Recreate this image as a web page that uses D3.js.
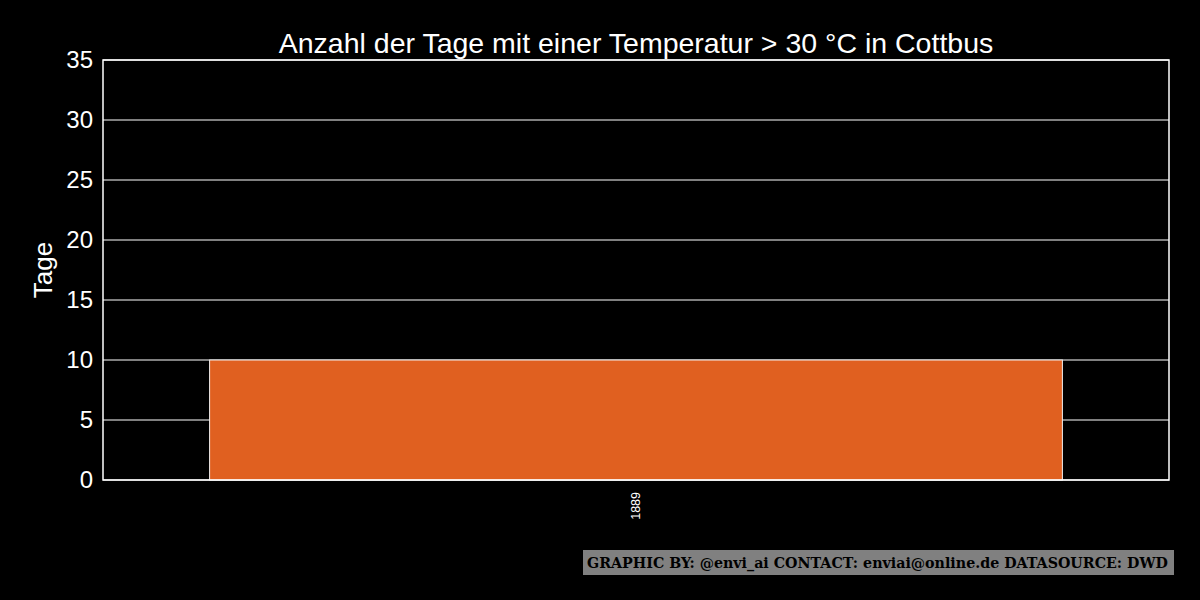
<!DOCTYPE html>
<html><head><meta charset="utf-8">
<script src="https://cdn.jsdelivr.net/npm/d3@7"></script>
<style>html,body{margin:0;padding:0;background:#000;}svg{display:block;}</style>
</head><body>
<svg id="c" width="1200" height="600"></svg>
<script>
const years = ["1889"];
const values = [10];
const yTicks = [0,5,10,15,20,25,30,35];
const title = "Anzahl der Tage mit einer Temperatur > 30 °C in Cottbus";
const yLabel = "Tage";
const footer = "GRAPHIC BY: @envi_ai CONTACT: enviai@online.de DATASOURCE: DWD";

const svg = d3.select("#c");
const m = {l:103, r:31, t:60, b:120};
const W = 1200, H = 600;
const iw = W - m.l - m.r, ih = H - m.t - m.b;
svg.append("rect").attr("width",W).attr("height",H).attr("fill","#000");
const g = svg.append("g").attr("transform",`translate(${m.l},${m.t})`);
const x = d3.scaleBand().domain(years).range([0,iw]).paddingInner(0.2).paddingOuter(0.1);
const y = d3.scaleLinear().domain([0,35]).range([ih,0]);

g.selectAll("line.grid").data(yTicks).join("line")
  .attr("x1",0).attr("x2",iw).attr("y1",d=>y(d)).attr("y2",d=>y(d))
  .attr("stroke","#fff").attr("stroke-width",1.2);

g.selectAll("rect.bar").data(years).join("rect")
  .attr("x",d=>x(d)).attr("width",x.bandwidth())
  .attr("y",(d,i)=>y(values[i])).attr("height",(d,i)=>ih-y(values[i]))
  .attr("fill","#E06020").attr("stroke","#f0f0f0").attr("stroke-width",1);

g.append("rect").attr("width",iw).attr("height",ih).attr("fill","none").attr("stroke","#fff").attr("stroke-width",1.5);

const ya = g.append("g").call(d3.axisLeft(y).tickValues(yTicks).tickSize(0).tickPadding(10));
ya.select(".domain").remove();
ya.selectAll("text").attr("fill","#fff").attr("font-size",24).attr("font-family","Liberation Sans, Arial, sans-serif");

const xa = g.append("g").attr("transform",`translate(0,${ih})`).call(d3.axisBottom(x).tickSize(0));
xa.select(".domain").remove();
xa.selectAll("text").attr("fill","#fff").attr("font-size",12.5).attr("font-family","Liberation Sans, Arial, sans-serif")
  .attr("transform","rotate(-90)").attr("text-anchor","end").attr("dx","-12").attr("dy","0.35em").attr("y",0).attr("x",0);

svg.append("text").attr("x",m.l+iw/2).attr("y",53).attr("text-anchor","middle")
  .attr("fill","#fff").attr("font-size",28.5).attr("font-family","Liberation Sans, Arial, sans-serif").text(title);

svg.append("text").attr("transform",`translate(52,${m.t+ih/2}) rotate(-90)`).attr("text-anchor","middle")
  .attr("fill","#fff").attr("font-size",26).attr("font-family","Liberation Sans, Arial, sans-serif").text(yLabel);

svg.append("rect").attr("x",583).attr("y",550).attr("width",591).attr("height",25).attr("fill","#808080");
const ft = svg.append("text").attr("x",587).attr("y",568).attr("text-anchor","start")
  .attr("fill","#000").attr("font-size",14).attr("font-weight","bold").attr("font-family","DejaVu Serif, serif").text(footer);
const len = ft.node().getComputedTextLength();
ft.attr("font-size", 14*581/len);
</script>
</body></html>
